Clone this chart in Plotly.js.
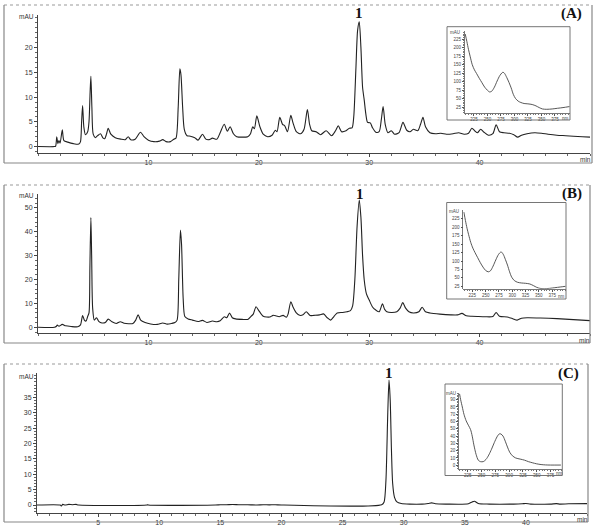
<!DOCTYPE html>
<html>
<head>
<meta charset="utf-8">
<script src="https://cdn.plot.ly/plotly-3.0.1.min.js"></script>
<style>html,body{margin:0;padding:0;background:#fff;}#chart{width:600px;height:530px;}</style>
</head>
<body>
<div id="chart"></div>
<script>
// ---------- Chromatogram A ----------
const timeA = [0,1.5,1.6,1.7,1.8,1.9,2.0,2.2,2.35,2.7,3.2,3.7,3.85,3.95,4.04,4.15,4.3,4.5,4.62,4.72,4.79,4.88,5.0,5.2,5.4,5.66,5.9,6.05,6.2,6.36,6.6,7.0,7.5,7.9,8.17,8.4,8.8,9.28,9.6,10.0,10.5,11.0,11.3,11.6,12.0,12.3,12.5,12.7,12.85,12.95,13.1,13.25,13.5,13.8,14.2,14.5,14.9,15.2,15.5,15.8,16.2,16.5,16.87,17.15,17.4,17.7,18.0,18.5,19.0,19.25,19.45,19.6,19.82,20.1,20.4,20.8,21.2,21.5,21.65,21.9,22.15,22.35,22.6,22.9,23.1,23.4,23.8,24.1,24.4,24.6,24.8,25.2,25.6,26.1,26.6,26.95,27.2,27.5,27.9,28.2,28.45,28.6,28.8,28.95,29.1,29.25,29.4,29.55,29.7,29.85,30.1,30.3,30.6,30.9,31.1,31.26,31.45,31.7,32.0,32.3,32.7,33.06,33.4,33.7,34.0,34.4,34.65,34.87,35.1,35.5,36.0,36.5,37.0,37.6,38.1,38.6,39.0,39.3,39.6,39.8,40.1,40.4,40.8,41.2,41.5,41.8,42.2,42.7,43.1,43.45,43.8,44.3,45.0,45.6,46.2,47.0,47.8,48.5,49.3,50];
const signalA = [0,0,0.1,2.0,0.6,1.2,0.7,3.4,1.2,0.9,0.6,0.5,1.0,5,8.3,4,2.4,3.0,5,11,14.2,8,2.5,1.8,2.2,2.6,1.7,1.6,2.5,3.7,2.5,1.8,1.5,1.4,2.0,1.4,1.5,2.9,2.0,1.3,1.0,1.1,1.4,1.0,1.0,1.5,1.7,8,15.7,14.5,8,3.5,2.2,2.1,1.8,1.3,2.5,1.5,1.4,1.7,1.5,2.8,4.5,3.1,4.0,2.6,2.0,1.9,2.0,2.6,4.0,3.6,6.2,4.0,2.5,2.0,2.3,3.3,3.0,5.9,4.5,4.2,3.0,6.3,4.8,3.0,2.6,3.5,7.5,4.5,3.2,3.0,2.4,3.2,2.2,3.2,4.2,3.0,3.2,3.7,3.8,6,16,23.5,25.2,20,12,9.4,6.5,4.9,4.8,3.8,2.9,3.0,5.5,8.1,4.5,2.8,3.2,2.5,2.8,4.9,3.3,3.0,3.5,3.2,4.5,5.9,4.0,2.8,2.6,2.7,2.5,2.6,2.8,2.5,2.7,3.7,3.1,2.8,3.5,2.9,2.3,2.6,4.4,3.0,2.8,2.7,2.4,1.9,2.3,2.6,2.8,2.7,2.5,2.3,2.2,2.1,2.0,1.9];

// ---------- Chromatogram B ----------
const timeB = [0,1.5,1.65,1.75,1.9,2.2,2.5,3.0,3.6,3.85,4.04,4.2,4.35,4.5,4.62,4.7,4.79,4.86,4.95,5.1,5.3,5.5,5.8,6.1,6.36,6.7,7.1,7.45,7.8,8.2,8.6,8.85,9.07,9.3,9.7,10.2,10.8,11.3,11.7,12.1,12.4,12.6,12.75,12.9,13.0,13.15,13.3,13.6,14.0,14.5,14.9,15.3,15.8,16.2,16.5,16.87,17.1,17.35,17.6,17.9,18.5,19.0,19.3,19.5,19.75,20.0,20.4,21.0,21.3,21.6,21.85,22.2,22.5,22.65,22.9,23.1,23.4,23.7,24.0,24.3,24.65,25.0,25.5,25.86,26.2,26.5,26.8,27.1,27.6,28.0,28.3,28.5,28.7,28.9,29.1,29.25,29.4,29.55,29.75,30.0,30.3,30.6,30.9,31.2,31.4,31.6,32.0,32.5,32.8,33.04,33.3,33.6,34.0,34.5,34.8,35.1,35.5,36.4,37.4,38.0,38.4,38.8,39.3,39.8,40.5,41.2,41.5,41.8,42.5,43.0,43.4,43.8,44.3,45.5,47.0,48.5,50];
const signalB = [0,0,0.3,0.9,0.4,1.2,0.6,0.3,0.2,1.0,4.9,3.0,2.6,4.5,6,25,45.9,30,8,3.0,4.0,2.5,1.8,2.0,3.4,2.3,1.6,2.3,1.7,1.5,1.6,3.0,5.2,3.0,2.0,1.4,1.2,1.8,1.3,1.6,2.0,3.0,20,40.7,35,12,4.5,3.5,3.0,2.4,2.9,2.0,2.6,2.3,2.7,4.4,4.0,6.0,4.0,3.5,3.3,3.3,4.6,5.5,8.6,7.0,4.6,4.3,5.0,4.7,4.4,5.0,4.2,5.5,10.7,8.5,6.0,5.0,5.2,6.5,4.9,5.0,5.2,5.6,4.0,3.0,4.5,6.0,6.2,6.5,7.0,9,20,42,53.3,46,30,19.8,14,11.4,8.5,7.2,6.5,9.8,7.5,6.5,6.2,6.5,8.0,10.3,8.0,6.5,6.0,6.5,8.4,6.5,6.0,5.5,5.2,5.2,5.8,4.8,4.6,4.5,4.4,4.5,6.2,4.6,4.3,3.6,3.0,3.8,4.0,3.9,3.6,3.2,2.8];

// ---------- Chromatogram C ----------
const timeC = [0,1.9,2.0,2.1,2.3,2.6,2.9,3.2,3.4,9.0,9.05,9.1,14.6,15,15.5,16,16.5,17,17.5,18,18.5,19,19.5,20,28.2,28.4,28.55,28.7,28.8,28.9,29.0,29.1,29.25,29.45,29.8,30.5,31.5,32.0,32.3,32.6,33.5,35.3,35.6,35.8,36.1,37,39,39.7,40,40.4,42,42.5,42.8,43.5,45];
const signalC = [0,0,-0.3,0.2,0,0.2,0.1,0.2,0,0,0.1,0,0,0.1,0.1,0.15,0.1,0.1,0.05,0,0.1,0.05,0.1,0,0.1,1.0,8,30,40.6,34,18,7,2.5,1.0,0.5,0.3,0.3,0.5,0.7,0.4,0.3,0.4,1.0,1.2,0.5,0.3,0.3,0.4,0.5,0.3,0.3,0.45,0.3,0.4,0.45];

// ---------- UV spectra (insets) ----------
const wlA = [209,212,215,218,222,226,230,235,240,245,250,254,258,263,268,273,277,279,282,286,290,294,298,302,307,312,318,325,333,340,346,352,360,370,380,390,402];
const absA = [240,218,195,175,150,135,124,110,97,84,75,70,72,84,102,118,126,128,124,112,98,82,63,51,43,39,36,35,33,29,24,20,19,20,22,24,27];
const wlB = [209,212,215,218,222,226,230,235,240,245,250,255,259,264,269,274,279,283,287,291,295,299,304,310,317,325,333,340,346,352,360,370,380,390,400];
const absB = [245,220,197,178,155,138,125,110,95,82,72,68,71,85,103,119,127,120,105,88,68,52,42,37,35,34,32,27,22,19,18,19,21,23,25];
const wlC = [210,212,215,218,222,226,230,233,236,240,244,248,253,258,263,268,273,278,282,285,289,293,297,301,306,312,320,328,335,342,350,358,366,375,394];
const absC = [98,90,80,70,61,55,49,40,28,15,7,5,5,8,14,22,31,39,43,43,40,33,25,18,13,10,8.5,7,5,3.5,2,1,0.5,0.3,0.3];

// ---------- tick labels ----------
const yTicksA = [0,5,10,15,20];
const yTicksB = [0,10,20,30,40,50];
const yTicksC = [0,5,10,15,20,25,30,35];
const xTicksAB = [10,20,30,40];
const xTicksC = [5,10,15,20,25,30,35,40];
const specTicks = [225,250,275,300,325,350,375];
const specYTicksAB = [25,50,75,100,125,150,175,200,225];
const specYTicksC = [0,10,20,30,40,50,60,70,80,90];
const panelLabels = ['(A)','(B)','(C)'];

const W = 600, H = 530;
const px = x => x / W;
const py = y => 1 - y / H;

const lineStyle = {color: '#222', width: 1.1, shape: 'spline', smoothing: 0.7};
const specLine = {color: '#444', width: 0.9, shape: 'spline', smoothing: 0.8};

const traces = [
  {x: timeA, y: signalA, xaxis: 'x', yaxis: 'y', type: 'scatter', mode: 'lines', line: lineStyle, hoverinfo: 'skip'},
  {x: timeB, y: signalB, xaxis: 'x2', yaxis: 'y2', type: 'scatter', mode: 'lines', line: lineStyle, hoverinfo: 'skip'},
  {x: timeC, y: signalC, xaxis: 'x3', yaxis: 'y3', type: 'scatter', mode: 'lines', line: lineStyle, hoverinfo: 'skip'},
  {x: wlA, y: absA, xaxis: 'x4', yaxis: 'y4', type: 'scatter', mode: 'lines', line: specLine, hoverinfo: 'skip'},
  {x: wlB, y: absB, xaxis: 'x5', yaxis: 'y5', type: 'scatter', mode: 'lines', line: specLine, hoverinfo: 'skip'},
  {x: wlC, y: absC, xaxis: 'x6', yaxis: 'y6', type: 'scatter', mode: 'lines', line: specLine, hoverinfo: 'skip'}
];

const tickFont = {family: 'Liberation Sans, Arial, sans-serif', size: 7, color: '#333'};
const smallFont = {family: 'Liberation Sans, Arial, sans-serif', size: 4.5, color: '#444'};

function mainX(domain, range, vals, minorD, anchor) {
  return {domain: domain, range: range, anchor: anchor, showgrid: false, zeroline: false,
    showline: true, linecolor: '#444', linewidth: 1, ticks: 'outside', ticklen: 3, tickcolor: '#444',
    tickvals: vals, ticktext: vals.map(String), tickfont: tickFont,
    minor: {dtick: minorD, tick0: 0, ticks: 'outside', ticklen: 2, tickcolor: '#666', showgrid: false}};
}
function mainY(domain, range, vals, minorD, anchor) {
  return {domain: domain, range: range, anchor: anchor, showgrid: false, zeroline: false,
    showline: true, linecolor: '#444', linewidth: 1, ticks: 'outside', ticklen: 3, tickcolor: '#444',
    tickvals: vals, ticktext: vals.map(String), tickfont: tickFont,
    minor: {dtick: minorD, tick0: 0, ticks: 'outside', ticklen: 2, tickcolor: '#666', showgrid: false}};
}
function insX(domain, range, anchor) {
  return {domain: domain, range: range, anchor: anchor, showgrid: false, zeroline: false,
    showline: true, linecolor: '#555', linewidth: 0.8, ticks: 'outside', ticklen: 2, tickcolor: '#555',
    tickvals: specTicks, ticktext: specTicks.map(String), tickfont: smallFont,
    minor: {dtick: 5, tick0: 0, ticks: 'outside', ticklen: 1, tickcolor: '#777'}};
}
function insY(domain, range, vals, minorD, anchor) {
  return {domain: domain, range: range, anchor: anchor, showgrid: false, zeroline: false,
    showline: true, linecolor: '#555', linewidth: 0.8, ticks: 'outside', ticklen: 2, tickcolor: '#555',
    tickvals: vals, ticktext: vals.map(String), tickfont: smallFont,
    minor: {dtick: minorD, tick0: 0, ticks: 'outside', ticklen: 1, tickcolor: '#777'}};
}

const layout = {
  width: W, height: H, margin: {l: 0, r: 0, t: 0, b: 0},
  paper_bgcolor: '#fff', plot_bgcolor: 'rgba(0,0,0,0)', showlegend: false,
  xaxis:  mainX([px(38), px(590)], [0, 50], xTicksAB, 2, 'y'),
  yaxis:  mainY([py(153), py(15)], [-1.3, 26.6], yTicksA, 1, 'x'),
  xaxis2: mainX([px(38), px(590)], [0, 50], xTicksAB, 2, 'y2'),
  yaxis2: mainY([py(333), py(194)], [-2.4, 55.8], yTicksB, 2, 'x2'),
  xaxis3: mainX([px(37), px(587)], [0, 45], xTicksC, 1, 'y3'),
  yaxis3: mainY([py(512.7), py(373)], [-2.5, 42.9], yTicksC, 1, 'x3'),
  xaxis4: insX([px(464.7), px(570)], [208, 403], 'y4'),
  yaxis4: insY([py(112.7), py(31)], [9, 249], specYTicksAB, 5, 'x4'),
  xaxis5: insX([px(463.3), px(566)], [208, 401], 'y5'),
  yaxis5: insY([py(288.7), py(209.7)], [18, 252], specYTicksAB, 5, 'x5'),
  xaxis6: insX([px(459), px(562)], [209, 396], 'y6'),
  yaxis6: insY([py(468.7), py(393)], [-4.7, 99.2], specYTicksC, 2, 'x6'),
  shapes: [],
  annotations: []
};

// panel frames
const frames = [[4, 592, 5, 163], [4, 590, 185, 343], [4, 588, 364, 522]];
frames.forEach(f => {
  const [x0, x1, y0, y1] = f;
  layout.shapes.push({type: 'line', xref: 'paper', yref: 'paper', x0: px(x0), x1: px(x1), y0: py(y0), y1: py(y0), line: {color: '#999', width: 1, dash: 'dot'}});
  layout.shapes.push({type: 'line', xref: 'paper', yref: 'paper', x0: px(x0), x1: px(x1), y0: py(y1), y1: py(y1), line: {color: '#888', width: 1.2}});
  layout.shapes.push({type: 'line', xref: 'paper', yref: 'paper', x0: px(x0), x1: px(x0), y0: py(y0), y1: py(y1), line: {color: '#888', width: 1.2}});
  layout.shapes.push({type: 'line', xref: 'paper', yref: 'paper', x0: px(x1), x1: px(x1), y0: py(y0), y1: py(y1), line: {color: '#888', width: 1.2}});
});
// inset frames
const insetFrames = [[447, 570, 26.7, 120], [446.7, 566, 202.5, 299], [445, 562.3, 384, 475.5]];
insetFrames.forEach(f => {
  layout.shapes.push({type: 'rect', xref: 'paper', yref: 'paper', x0: px(f[0]), x1: px(f[1]), y0: py(f[3]), y1: py(f[2]), line: {color: '#666', width: 0.9}, fillcolor: 'rgba(0,0,0,0)'});
});

function ann(text, x, y, font, xanchor) {
  layout.annotations.push({text: text, xref: 'paper', yref: 'paper', x: px(x), y: py(y), showarrow: false, font: font, xanchor: xanchor || 'center', yanchor: 'middle', borderpad: 0, borderwidth: 0});
}
const unitFont = {family: 'Liberation Sans, Arial, sans-serif', size: 6.5, color: '#333'};
const boldSerif = {family: 'Liberation Serif, Times New Roman, serif', size: 15, color: '#111', weight: 'bold'};

// mAU / min labels for the main axes
ann('mAU', 26, 17, unitFont);
ann('mAU', 26, 196, unitFont);
ann('mAU', 26, 376, unitFont);
ann('min', 585, 160, unitFont);
ann('min', 584, 340, unitFont);
ann('min', 582, 519.5, unitFont);
// panel letters
ann('<b>' + panelLabels[0] + '</b>', 571, 14, boldSerif);
ann('<b>' + panelLabels[1] + '</b>', 572, 194, boldSerif);
ann('<b>' + panelLabels[2] + '</b>', 568, 373, boldSerif);
// peak labels
ann('<b>1</b>', 359, 13, boldSerif);
ann('<b>1</b>', 360, 194, boldSerif);
ann('<b>1</b>', 389, 373, boldSerif);
// inset unit labels
ann('mAU', 455, 32.5, smallFont);
ann('nm', 569, 118.5, smallFont, 'right');
ann('mAU', 454, 211, smallFont);
ann('nm', 565, 296, smallFont, 'right');
ann('mAU', 451, 393, smallFont);
ann('nm', 562.5, 473.5, smallFont, 'right');

Plotly.newPlot('chart', traces, layout, {staticPlot: true, displayModeBar: false});
</script>
</body>
</html>
